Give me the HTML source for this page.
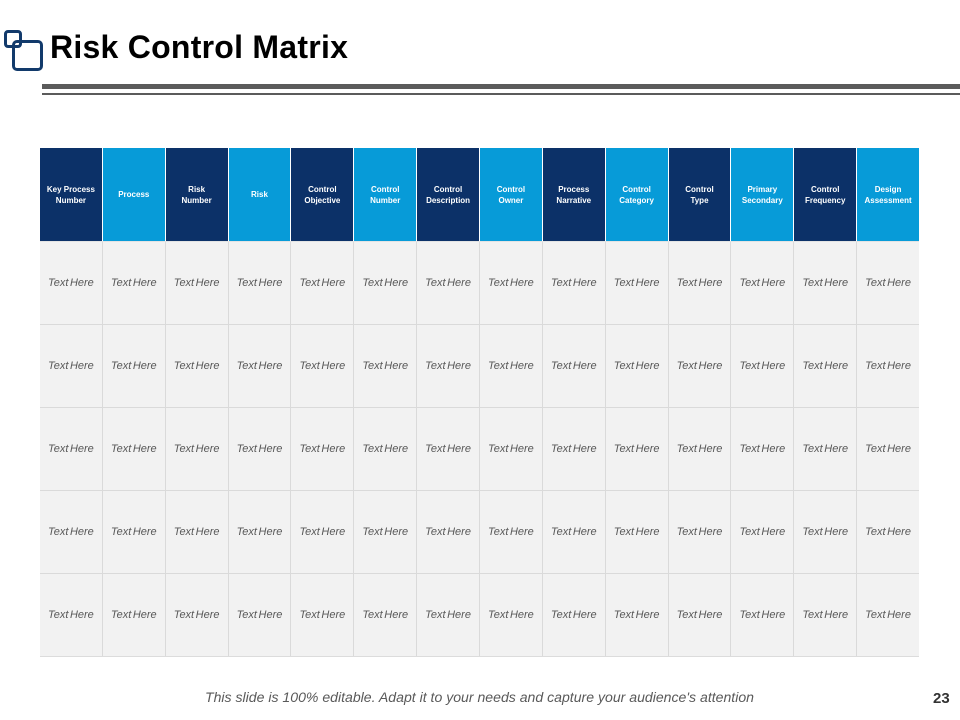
<!DOCTYPE html>
<html><head><meta charset="utf-8">
<style>
*{margin:0;padding:0;box-sizing:border-box}
body{width:960px;height:720px;background:#fff;position:relative;overflow:hidden;font-family:"Liberation Sans",Arial,sans-serif}
.title{position:absolute;left:50px;top:27px;font-size:32px;font-weight:bold;color:#000;letter-spacing:0.25px;line-height:40px}
.l1{position:absolute;left:42px;top:84px;width:918px;height:5px;background:#5b5b5b}
.l2{position:absolute;left:42px;top:93px;width:918px;height:2px;background:#5b5b5b}
.sq1{position:absolute;left:4px;top:30px;width:18px;height:18px;border:3px solid #123a6b;border-radius:4px}
.sq2{position:absolute;left:12px;top:40px;width:31px;height:31px;border:3px solid #123a6b;border-radius:5px}
.hdr{position:absolute;left:40px;top:148px;width:879px;height:93px;display:grid;grid-template-columns:repeat(14,1fr);column-gap:1px;background:#fff}
.hdr div{display:flex;align-items:center;justify-content:center;text-align:center;color:#fff;font-weight:bold;font-size:8px;line-height:11px;padding:0 1px}
.d{background:#0c3168}
.b{background:#079bd8}
.body{position:absolute;left:40px;top:241px;width:879px;height:416px;display:grid;grid-template-columns:repeat(14,1fr);grid-template-rows:repeat(5,1fr);gap:1px;background:#dadada;border-top:1px solid #e4e4e4;border-bottom:1px solid #dcdcdc}
.body div{background:#f2f2f2;display:flex;align-items:center;justify-content:center;font-style:italic;font-size:11px;color:#595959;word-spacing:-1.5px;white-space:nowrap}
.foot{position:absolute;left:0;top:686px}
.pg{position:absolute;left:933px;top:690px;font-size:15px;font-weight:bold;color:#333}
</style></head><body>
<div class="sq1"></div><div class="sq2"></div>
<div class="title">Risk Control Matrix</div>
<div class="l1"></div><div class="l2"></div>
<div class="hdr">
<div class="d">Key Process<br>Number</div>
<div class="b">Process</div>
<div class="d">Risk<br>Number</div>
<div class="b">Risk</div>
<div class="d">Control<br>Objective</div>
<div class="b">Control<br>Number</div>
<div class="d">Control<br>Description</div>
<div class="b">Control<br>Owner</div>
<div class="d">Process<br>Narrative</div>
<div class="b">Control<br>Category</div>
<div class="d">Control<br>Type</div>
<div class="b">Primary<br>Secondary</div>
<div class="d">Control<br>Frequency</div>
<div class="b">Design<br>Assessment</div>
</div>
<div class="body">
<div>Text Here</div><div>Text Here</div><div>Text Here</div><div>Text Here</div><div>Text Here</div><div>Text Here</div><div>Text Here</div><div>Text Here</div><div>Text Here</div><div>Text Here</div><div>Text Here</div><div>Text Here</div><div>Text Here</div><div>Text Here</div>
<div>Text Here</div><div>Text Here</div><div>Text Here</div><div>Text Here</div><div>Text Here</div><div>Text Here</div><div>Text Here</div><div>Text Here</div><div>Text Here</div><div>Text Here</div><div>Text Here</div><div>Text Here</div><div>Text Here</div><div>Text Here</div>
<div>Text Here</div><div>Text Here</div><div>Text Here</div><div>Text Here</div><div>Text Here</div><div>Text Here</div><div>Text Here</div><div>Text Here</div><div>Text Here</div><div>Text Here</div><div>Text Here</div><div>Text Here</div><div>Text Here</div><div>Text Here</div>
<div>Text Here</div><div>Text Here</div><div>Text Here</div><div>Text Here</div><div>Text Here</div><div>Text Here</div><div>Text Here</div><div>Text Here</div><div>Text Here</div><div>Text Here</div><div>Text Here</div><div>Text Here</div><div>Text Here</div><div>Text Here</div>
<div>Text Here</div><div>Text Here</div><div>Text Here</div><div>Text Here</div><div>Text Here</div><div>Text Here</div><div>Text Here</div><div>Text Here</div><div>Text Here</div><div>Text Here</div><div>Text Here</div><div>Text Here</div><div>Text Here</div><div>Text Here</div>
</div>
<svg class="foot" width="960" height="30" xmlns="http://www.w3.org/2000/svg">
<text x="205" y="16" font-family="Liberation Sans, Arial, sans-serif" font-style="italic" font-size="13.5" fill="#595959" textLength="549" lengthAdjust="spacingAndGlyphs">This slide is 100% editable. Adapt it to your needs and capture your audience's attention</text>
</svg>
<div class="pg">23</div>
</body></html>
